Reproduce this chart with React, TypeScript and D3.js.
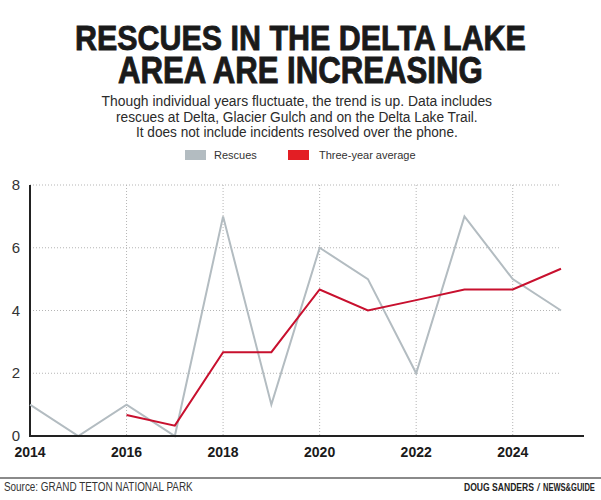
import { useRef, useEffect } from 'react';
import * as d3 from 'd3';

// Annual rescue counts and the trailing three-year average
const YEARS = [2014, 2015, 2016, 2017, 2018, 2019, 2020, 2021, 2022, 2023, 2024, 2025];
const RESCUES = [1, 0, 1, 0, 7, 1, 6, 5, 2, 7, 5, 4];
const AVG_YEARS = [2016, 2017, 2018, 2019, 2020, 2021, 2022, 2023, 2024, 2025];
const AVG_VALUES = [0.67, 0.33, 2.67, 2.67, 4.67, 4, 4.33, 4.67, 4.67, 5.33];
const X_TICKS = [2014, 2016, 2018, 2020, 2022, 2024];
const Y_TICKS = [0, 2, 4, 6, 8];

const TITLE_LINES = ['RESCUES IN THE DELTA LAKE', 'AREA ARE INCREASING'];
const SUBTITLE_LINES = [
  'Though individual years fluctuate, the trend is up. Data includes',
  'rescues at Delta, Glacier Gulch and on the Delta Lake Trail.',
  'It does not include incidents resolved over the phone.',
];

const WIDTH = 601;
const HEIGHT = 500;
const PLOT = { left: 30, right: 561, top: 185, bottom: 436, axisEnd: 584 };
const GRAY = '#b3bcc1';
const RED = '#c8102e';
const FONT = '"Liberation Sans", Arial, sans-serif';

type Sel = d3.Selection<SVGGElement, unknown, null, undefined>;

// Draws a line of text squeezed horizontally to a given width (condensed look)
function condensed(
  parent: Sel,
  text: string,
  cx: number,
  baseline: number,
  width: number,
  attrs: Record<string, string | number>,
  anchor: 'start' | 'middle' | 'end' = 'middle',
) {
  const g = parent.append('g');
  const t = g.append('text').attr('x', 0).attr('y', 0).text(text);
  Object.entries(attrs).forEach(([k, v]) => t.attr(k, v));
  const natural = (t.node() as SVGTextElement).getComputedTextLength() || width;
  const sx = width / natural;
  const left = anchor === 'middle' ? cx - width / 2 : anchor === 'end' ? cx - width : cx;
  g.attr('transform', `translate(${left},${baseline}) scale(${sx},1)`);
  return g;
}

export default function App() {
  const svgRef = useRef<SVGSVGElement>(null);

  useEffect(() => {
    const svg = d3.select(svgRef.current);
    svg.selectAll('*').remove();

    svg.append('rect').attr('width', WIDTH).attr('height', HEIGHT).attr('fill', '#fff');
    const root = svg.append('g') as unknown as Sel;

    // Headline
    const titleWidths = [451, 365];
    const titleBase = [50, 83];
    TITLE_LINES.forEach((t, i) => {
      condensed(root, t, WIDTH / 2, titleBase[i], titleWidths[i], {
        'font-family': FONT,
        'font-weight': 'bold',
        'font-size': 36,
        fill: '#1a1a1a',
        stroke: '#1a1a1a',
        'stroke-width': 0.9,
      });
    });

    // Deck
    const subWidths = [391, 362, 322];
    SUBTITLE_LINES.forEach((t, i) => {
      condensed(root, t, 297, 106 + i * 15.5, subWidths[i], {
        'font-family': FONT,
        'font-size': 14.5,
        fill: '#2b2b2b',
      });
    });

    // Legend
    const legend = svg.append('g').attr('font-family', FONT).attr('font-size', 11).attr('fill', '#333');
    legend.append('rect').attr('x', 185).attr('y', 150).attr('width', 21).attr('height', 10).attr('fill', GRAY);
    legend.append('text').attr('x', 214).attr('y', 159).text('Rescues');
    legend.append('rect').attr('x', 288).attr('y', 150).attr('width', 21).attr('height', 10).attr('fill', '#e31e24');
    legend.append('text').attr('x', 319).attr('y', 159).text('Three-year average');

    const x = d3.scaleLinear().domain([2014, 2025]).range([PLOT.left, PLOT.right]);
    const y = d3.scaleLinear().domain([0, 8]).range([PLOT.bottom, PLOT.top]);

    const g = svg.append('g');

    // Dotted grid
    g.selectAll('.hgrid')
      .data(Y_TICKS.filter((d) => d > 0))
      .join('line')
      .attr('x1', PLOT.left)
      .attr('x2', PLOT.right)
      .attr('y1', (d) => y(d))
      .attr('y2', (d) => y(d))
      .attr('stroke', '#b5b5b5')
      .attr('stroke-width', 1)
      .attr('stroke-dasharray', '1,2');

    g.selectAll('.vgrid')
      .data(X_TICKS.filter((d) => d > 2014))
      .join('line')
      .attr('x1', (d) => x(d))
      .attr('x2', (d) => x(d))
      .attr('y1', PLOT.top)
      .attr('y2', PLOT.bottom)
      .attr('stroke', '#b5b5b5')
      .attr('stroke-width', 1)
      .attr('stroke-dasharray', '1,2');

    // Axes
    g.append('line')
      .attr('x1', PLOT.left).attr('x2', PLOT.left)
      .attr('y1', PLOT.top).attr('y2', PLOT.bottom)
      .attr('stroke', '#222').attr('stroke-width', 2);

    g.selectAll('.ylab')
      .data(Y_TICKS)
      .join('text')
      .attr('x', 16)
      .attr('y', (d) => y(d) + 5)
      .attr('text-anchor', 'middle')
      .attr('font-family', FONT)
      .attr('font-size', 15)
      .attr('fill', '#333')
      .text((d) => d);

    g.selectAll('.xlab')
      .data(X_TICKS)
      .join('text')
      .attr('x', (d) => x(d))
      .attr('y', 457)
      .attr('text-anchor', 'middle')
      .attr('font-family', FONT)
      .attr('font-weight', 'bold')
      .attr('font-size', 14)
      .attr('fill', '#1a1a1a')
      .text((d) => d);

    // Series
    const line = d3.line<[number, number]>()
      .x((d) => x(d[0]))
      .y((d) => y(d[1]));

    g.append('path')
      .datum(YEARS.map((yr, i) => [yr, RESCUES[i]] as [number, number]))
      .attr('d', line)
      .attr('fill', 'none')
      .attr('stroke', GRAY)
      .attr('stroke-width', 2);

    g.append('path')
      .datum(AVG_YEARS.map((yr, i) => [yr, AVG_VALUES[i]] as [number, number]))
      .attr('d', line)
      .attr('fill', 'none')
      .attr('stroke', RED)
      .attr('stroke-width', 2);

    g.append('line')
      .attr('x1', PLOT.left - 1).attr('x2', PLOT.axisEnd)
      .attr('y1', PLOT.bottom).attr('y2', PLOT.bottom)
      .attr('stroke', '#222').attr('stroke-width', 2);

    // Footer
    svg.append('line')
      .attr('x1', 0).attr('x2', WIDTH)
      .attr('y1', 478).attr('y2', 478)
      .attr('stroke', '#8a8a8a').attr('stroke-width', 2);

    condensed(root, 'Source: GRAND TETON NATIONAL PARK', 4, 491, 189, {
      'font-family': FONT,
      'font-size': 12.5,
      fill: '#333',
    }, 'start');

    const creditAttrs = { 'font-family': FONT, 'font-size': 10.5, fill: '#222', 'font-weight': 'bold' };
    condensed(root, 'DOUG SANDERS', 464, 491, 70, creditAttrs, 'start');
    condensed(root, '/', 538.5, 491, 3.5, { ...creditAttrs, 'font-weight': 'normal' }, 'middle');
    condensed(root, 'NEWS&GUIDE', 595, 491, 52, creditAttrs, 'end');
  }, []);

  return (
    <div style={{ position: 'absolute', left: 0, top: 0 }}>
      <svg ref={svgRef} width={WIDTH} height={HEIGHT} style={{ display: 'block' }} />
    </div>
  );
}
